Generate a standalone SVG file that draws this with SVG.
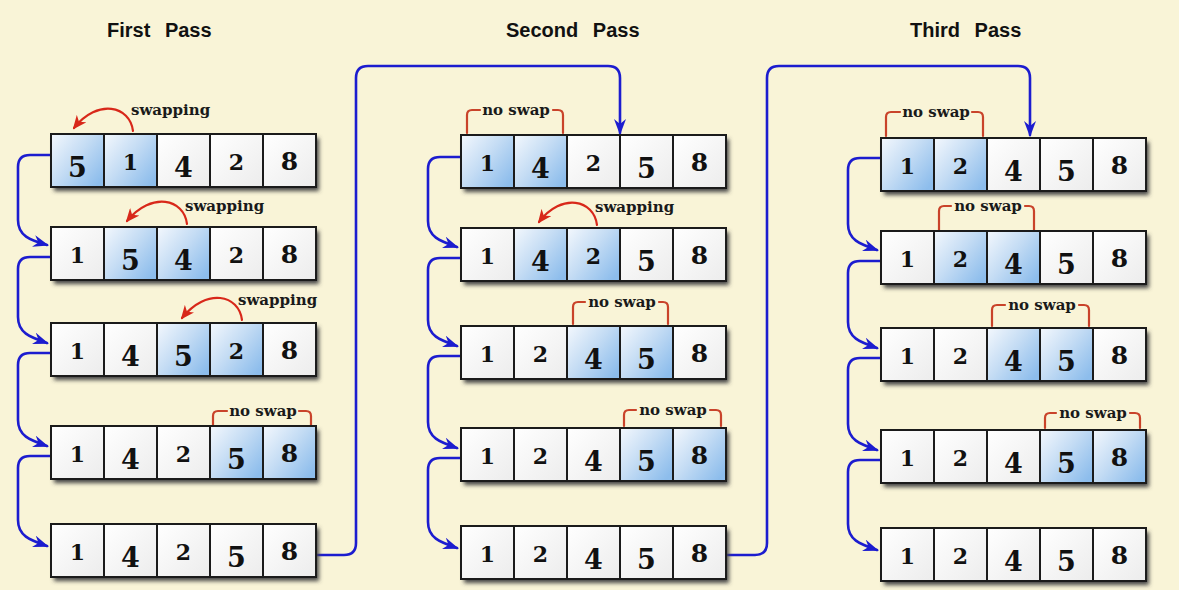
<svg xmlns="http://www.w3.org/2000/svg" width="1179" height="590" viewBox="0 0 1179 590">
<defs>
<style>
.title{font-family:"Liberation Sans",Arial,sans-serif;font-weight:bold;font-size:20px;fill:#111;word-spacing:9px}
.lbl{font-family:"DejaVu Serif","Liberation Serif",serif;font-weight:bold;font-size:15px;fill:#1a1a1a}
.c{fill:url(#gw);stroke:#1b1b1b;stroke-width:2}
.h{fill:url(#gb);stroke:#1b1b1b;stroke-width:2}
.frame{fill:#444;stroke:none;filter:url(#sh)}
.d{font-family:"DejaVu Serif","Liberation Serif",serif;font-weight:bold;fill:#111;text-anchor:middle}
.s{font-size:22px}
.m{font-size:25px}
.l{font-size:27px}
.conn{fill:none;stroke:#1c1ccf;stroke-width:2.6;stroke-linecap:round;stroke-linejoin:round}
.swap{fill:none;stroke:#d8281a;stroke-width:2.2;stroke-linecap:round}
.br{fill:none;stroke:#c9432a;stroke-width:2.2;stroke-linecap:round}
</style>
<linearGradient id="gw" x1="0" y1="0" x2="1" y2="1">
<stop offset="0" stop-color="#ffffff"/><stop offset="1" stop-color="#ececec"/>
</linearGradient>
<linearGradient id="gb" x1="0" y1="0" x2="1" y2="0.8">
<stop offset="0" stop-color="#f4f8fd"/><stop offset="0.5" stop-color="#c4dcf4"/><stop offset="1" stop-color="#8dbdec"/>
</linearGradient>
<filter id="sh" x="-5%" y="-20%" width="115%" height="160%">
<feGaussianBlur stdDeviation="2.2"/>
</filter>
<marker id="ab" viewBox="0 0 16 12" refX="14" refY="6" markerWidth="16" markerHeight="12" orient="auto" markerUnits="userSpaceOnUse">
<path d="M0,0 L16,6 L0,12 L5,6 z" fill="#1c1ccf"/>
</marker>
<marker id="ar" viewBox="0 0 14 12" refX="12" refY="6" markerWidth="14" markerHeight="12" orient="auto" markerUnits="userSpaceOnUse">
<path d="M0,0 L14,6 L0,12 L4,6 z" fill="#d8281a"/>
</marker>
</defs>
<rect width="1179" height="590" fill="#f9f4d7"/>

<text class="title" x="107" y="37">First Pass</text>
<text class="title" x="506" y="37">Second Pass</text>
<text class="title" x="910" y="37">Third Pass</text>

<g id="connectors">
<path class="conn" marker-end="url(#ab)" d="M51,155 H30 Q18,155 18,167 V220 C18,236 30,240 47,245"/>
<path class="conn" marker-end="url(#ab)" d="M51,257 H30 Q18,257 18,269 V317 C18,333 30,337 47,343"/>
<path class="conn" marker-end="url(#ab)" d="M51,353 H30 Q18,353 18,365 V420 C18,436 30,440 47,446"/>
<path class="conn" marker-end="url(#ab)" d="M51,456 H30 Q18,456 18,468 V520 C18,536 30,540 47,546"/>
<path class="conn" marker-end="url(#ab)" d="M316,555 H344 Q356,555 356,543 V78 Q356,66 368,66 H608 Q620,66 620,78 V133"/>

<path class="conn" marker-end="url(#ab)" d="M461,157 H440 Q428,157 428,169 V221 C428,237 440,241 457,247"/>
<path class="conn" marker-end="url(#ab)" d="M461,258 H440 Q428,258 428,270 V320 C428,336 440,340 457,346"/>
<path class="conn" marker-end="url(#ab)" d="M461,356 H440 Q428,356 428,368 V422 C428,438 440,442 457,448"/>
<path class="conn" marker-end="url(#ab)" d="M461,458 H440 Q428,458 428,470 V522 C428,538 440,542 457,548"/>
<path class="conn" marker-end="url(#ab)" d="M726,555 H755 Q767,555 767,543 V78 Q767,66 779,66 H1018 Q1030,66 1030,78 V135"/>

<path class="conn" marker-end="url(#ab)" d="M881,158 H860 Q848,158 848,170 V224 C848,240 860,244 877,250"/>
<path class="conn" marker-end="url(#ab)" d="M881,261 H860 Q848,261 848,273 V322 C848,338 860,342 877,348"/>
<path class="conn" marker-end="url(#ab)" d="M881,358 H860 Q848,358 848,370 V424 C848,440 860,444 877,450"/>
<path class="conn" marker-end="url(#ab)" d="M881,460 H860 Q848,460 848,472 V524 C848,540 860,544 877,550"/>
</g>

<g id="annotations">
<path class="swap" marker-end="url(#ar)" d="M133,131 C130,106 98,98 74,128"/>
<text class="lbl" x="131" y="115">swapping</text>
<path class="swap" marker-end="url(#ar)" d="M187,224 C184,199 152,191 127,221"/>
<text class="lbl" x="185" y="211">swapping</text>
<path class="swap" marker-end="url(#ar)" d="M242,320 C239,295 207,287 182,318"/>
<text class="lbl" x="238" y="305">swapping</text>
<path class="swap" marker-end="url(#ar)" d="M597,225 C594,200 562,192 539,222"/>
<text class="lbl" x="595" y="212">swapping</text>

<path class="br" d="M213,425 V416 Q213,411 218,411 H227 M299,411 H306 Q311,411 311,416 V425"/>
<text class="lbl" x="263" y="416" text-anchor="middle">no swap</text>
<path class="br" d="M467,133 V115 Q467,110 472,110 H480 M553,110 H558 Q563,110 563,115 V133"/>
<text class="lbl" x="516" y="115" text-anchor="middle">no swap</text>
<path class="br" d="M573,324 V307 Q573,302 578,302 H585 M659,302 H663 Q668,302 668,307 V324"/>
<text class="lbl" x="622" y="307" text-anchor="middle">no swap</text>
<path class="br" d="M624,426 V415 Q624,410 629,410 H636 M710,410 H716 Q721,410 721,415 V426"/>
<text class="lbl" x="673" y="415" text-anchor="middle">no swap</text>
<path class="br" d="M886,136 V117 Q886,112 891,112 H900 M972,112 H978 Q983,112 983,117 V136"/>
<text class="lbl" x="936" y="117" text-anchor="middle">no swap</text>
<path class="br" d="M939,230 V211 Q939,206 944,206 H951 M1025,206 H1029 Q1034,206 1034,211 V230"/>
<text class="lbl" x="988" y="211" text-anchor="middle">no swap</text>
<path class="br" d="M992,326 V310 Q992,305 997,305 H1005 M1079,305 H1084 Q1089,305 1089,310 V326"/>
<text class="lbl" x="1042" y="310" text-anchor="middle">no swap</text>
<path class="br" d="M1045,428 V418 Q1045,413 1050,413 H1056 M1130,413 H1135 Q1140,413 1140,418 V428"/>
<text class="lbl" x="1093" y="418" text-anchor="middle">no swap</text>
</g>

<!-- First pass -->
<g id="p1r1" transform="translate(51,134)">
<rect class="frame" x="3" y="4" width="265" height="53"/>
<rect class="h" x="0" width="53" height="53"/><rect class="h" x="53" width="53" height="53"/><rect class="c" x="106" width="53" height="53"/><rect class="c" x="159" width="53" height="53"/><rect class="c" x="212" width="53" height="53"/>
<text class="d l" x="26.5" y="43">5</text><text class="d s" x="79.5" y="36">1</text><text class="d l" x="132.5" y="43">4</text><text class="d s" x="185.5" y="36">2</text><text class="d m" x="238.5" y="36">8</text>
</g>
<g id="p1r2" transform="translate(51,227)">
<rect class="frame" x="3" y="4" width="265" height="53"/>
<rect class="c" x="0" width="53" height="53"/><rect class="h" x="53" width="53" height="53"/><rect class="h" x="106" width="53" height="53"/><rect class="c" x="159" width="53" height="53"/><rect class="c" x="212" width="53" height="53"/>
<text class="d s" x="26.5" y="36">1</text><text class="d l" x="79.5" y="43">5</text><text class="d l" x="132.5" y="43">4</text><text class="d s" x="185.5" y="36">2</text><text class="d m" x="238.5" y="36">8</text>
</g>
<g id="p1r3" transform="translate(51,323)">
<rect class="frame" x="3" y="4" width="265" height="53"/>
<rect class="c" x="0" width="53" height="53"/><rect class="c" x="53" width="53" height="53"/><rect class="h" x="106" width="53" height="53"/><rect class="h" x="159" width="53" height="53"/><rect class="c" x="212" width="53" height="53"/>
<text class="d s" x="26.5" y="36">1</text><text class="d l" x="79.5" y="43">4</text><text class="d l" x="132.5" y="43">5</text><text class="d s" x="185.5" y="36">2</text><text class="d m" x="238.5" y="36">8</text>
</g>
<g id="p1r4" transform="translate(51,426)">
<rect class="frame" x="3" y="4" width="265" height="53"/>
<rect class="c" x="0" width="53" height="53"/><rect class="c" x="53" width="53" height="53"/><rect class="c" x="106" width="53" height="53"/><rect class="h" x="159" width="53" height="53"/><rect class="h" x="212" width="53" height="53"/>
<text class="d s" x="26.5" y="36">1</text><text class="d l" x="79.5" y="43">4</text><text class="d s" x="132.5" y="36">2</text><text class="d l" x="185.5" y="43">5</text><text class="d m" x="238.5" y="36">8</text>
</g>
<g id="p1r5" transform="translate(51,524)">
<rect class="frame" x="3" y="4" width="265" height="53"/>
<rect class="c" x="0" width="53" height="53"/><rect class="c" x="53" width="53" height="53"/><rect class="c" x="106" width="53" height="53"/><rect class="c" x="159" width="53" height="53"/><rect class="c" x="212" width="53" height="53"/>
<text class="d s" x="26.5" y="36">1</text><text class="d l" x="79.5" y="43">4</text><text class="d s" x="132.5" y="36">2</text><text class="d l" x="185.5" y="43">5</text><text class="d m" x="238.5" y="36">8</text>
</g>

<!-- Second pass -->
<g id="p2r1" transform="translate(461,135)">
<rect class="frame" x="3" y="4" width="265" height="53"/>
<rect class="h" x="0" width="53" height="53"/><rect class="h" x="53" width="53" height="53"/><rect class="c" x="106" width="53" height="53"/><rect class="c" x="159" width="53" height="53"/><rect class="c" x="212" width="53" height="53"/>
<text class="d s" x="26.5" y="36">1</text><text class="d l" x="79.5" y="43">4</text><text class="d s" x="132.5" y="36">2</text><text class="d l" x="185.5" y="43">5</text><text class="d m" x="238.5" y="36">8</text>
</g>
<g id="p2r2" transform="translate(461,228)">
<rect class="frame" x="3" y="4" width="265" height="53"/>
<rect class="c" x="0" width="53" height="53"/><rect class="h" x="53" width="53" height="53"/><rect class="h" x="106" width="53" height="53"/><rect class="c" x="159" width="53" height="53"/><rect class="c" x="212" width="53" height="53"/>
<text class="d s" x="26.5" y="36">1</text><text class="d l" x="79.5" y="43">4</text><text class="d s" x="132.5" y="36">2</text><text class="d l" x="185.5" y="43">5</text><text class="d m" x="238.5" y="36">8</text>
</g>
<g id="p2r3" transform="translate(461,326)">
<rect class="frame" x="3" y="4" width="265" height="53"/>
<rect class="c" x="0" width="53" height="53"/><rect class="c" x="53" width="53" height="53"/><rect class="h" x="106" width="53" height="53"/><rect class="h" x="159" width="53" height="53"/><rect class="c" x="212" width="53" height="53"/>
<text class="d s" x="26.5" y="36">1</text><text class="d s" x="79.5" y="36">2</text><text class="d l" x="132.5" y="43">4</text><text class="d l" x="185.5" y="43">5</text><text class="d m" x="238.5" y="36">8</text>
</g>
<g id="p2r4" transform="translate(461,428)">
<rect class="frame" x="3" y="4" width="265" height="53"/>
<rect class="c" x="0" width="53" height="53"/><rect class="c" x="53" width="53" height="53"/><rect class="c" x="106" width="53" height="53"/><rect class="h" x="159" width="53" height="53"/><rect class="h" x="212" width="53" height="53"/>
<text class="d s" x="26.5" y="36">1</text><text class="d s" x="79.5" y="36">2</text><text class="d l" x="132.5" y="43">4</text><text class="d l" x="185.5" y="43">5</text><text class="d m" x="238.5" y="36">8</text>
</g>
<g id="p2r5" transform="translate(461,526)">
<rect class="frame" x="3" y="4" width="265" height="53"/>
<rect class="c" x="0" width="53" height="53"/><rect class="c" x="53" width="53" height="53"/><rect class="c" x="106" width="53" height="53"/><rect class="c" x="159" width="53" height="53"/><rect class="c" x="212" width="53" height="53"/>
<text class="d s" x="26.5" y="36">1</text><text class="d s" x="79.5" y="36">2</text><text class="d l" x="132.5" y="43">4</text><text class="d l" x="185.5" y="43">5</text><text class="d m" x="238.5" y="36">8</text>
</g>

<!-- Third pass -->
<g id="p3r1" transform="translate(881,138)">
<rect class="frame" x="3" y="4" width="265" height="53"/>
<rect class="h" x="0" width="53" height="53"/><rect class="h" x="53" width="53" height="53"/><rect class="c" x="106" width="53" height="53"/><rect class="c" x="159" width="53" height="53"/><rect class="c" x="212" width="53" height="53"/>
<text class="d s" x="26.5" y="36">1</text><text class="d s" x="79.5" y="36">2</text><text class="d l" x="132.5" y="43">4</text><text class="d l" x="185.5" y="43">5</text><text class="d m" x="238.5" y="36">8</text>
</g>
<g id="p3r2" transform="translate(881,231)">
<rect class="frame" x="3" y="4" width="265" height="53"/>
<rect class="c" x="0" width="53" height="53"/><rect class="h" x="53" width="53" height="53"/><rect class="h" x="106" width="53" height="53"/><rect class="c" x="159" width="53" height="53"/><rect class="c" x="212" width="53" height="53"/>
<text class="d s" x="26.5" y="36">1</text><text class="d s" x="79.5" y="36">2</text><text class="d l" x="132.5" y="43">4</text><text class="d l" x="185.5" y="43">5</text><text class="d m" x="238.5" y="36">8</text>
</g>
<g id="p3r3" transform="translate(881,328)">
<rect class="frame" x="3" y="4" width="265" height="53"/>
<rect class="c" x="0" width="53" height="53"/><rect class="c" x="53" width="53" height="53"/><rect class="h" x="106" width="53" height="53"/><rect class="h" x="159" width="53" height="53"/><rect class="c" x="212" width="53" height="53"/>
<text class="d s" x="26.5" y="36">1</text><text class="d s" x="79.5" y="36">2</text><text class="d l" x="132.5" y="43">4</text><text class="d l" x="185.5" y="43">5</text><text class="d m" x="238.5" y="36">8</text>
</g>
<g id="p3r4" transform="translate(881,430)">
<rect class="frame" x="3" y="4" width="265" height="53"/>
<rect class="c" x="0" width="53" height="53"/><rect class="c" x="53" width="53" height="53"/><rect class="c" x="106" width="53" height="53"/><rect class="h" x="159" width="53" height="53"/><rect class="h" x="212" width="53" height="53"/>
<text class="d s" x="26.5" y="36">1</text><text class="d s" x="79.5" y="36">2</text><text class="d l" x="132.5" y="43">4</text><text class="d l" x="185.5" y="43">5</text><text class="d m" x="238.5" y="36">8</text>
</g>
<g id="p3r5" transform="translate(881,528)">
<rect class="frame" x="3" y="4" width="265" height="53"/>
<rect class="c" x="0" width="53" height="53"/><rect class="c" x="53" width="53" height="53"/><rect class="c" x="106" width="53" height="53"/><rect class="c" x="159" width="53" height="53"/><rect class="c" x="212" width="53" height="53"/>
<text class="d s" x="26.5" y="36">1</text><text class="d s" x="79.5" y="36">2</text><text class="d l" x="132.5" y="43">4</text><text class="d l" x="185.5" y="43">5</text><text class="d m" x="238.5" y="36">8</text>
</g>
</svg>
